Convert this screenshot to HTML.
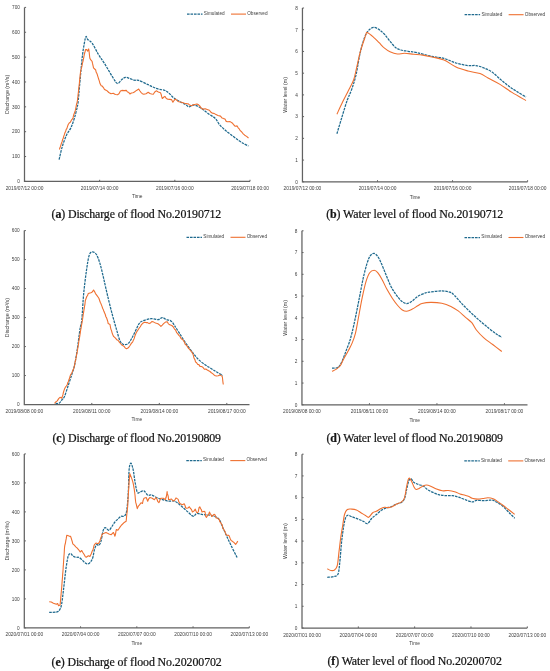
<!DOCTYPE html>
<html><head><meta charset="utf-8"><title>Figure</title>
<style>
html,body{margin:0;padding:0;background:#fff;}
svg{display:block;}
.ax{fill:none;stroke:#626262;stroke-width:1.25;}
.tk{fill:none;stroke:#626262;stroke-width:1;}
.sim{fill:none;stroke:#1f6a8e;stroke-width:1.25;stroke-dasharray:2.6 0.9;}
.obs{fill:none;stroke:#ef7030;stroke-width:1.1;stroke-linejoin:round;}
text{font-family:"Liberation Sans",Arial,sans-serif;fill:#404040;}
.yl{font-size:4.699999999999999px;text-anchor:end;}
.yt{font-size:5.3px;text-anchor:middle;}
.xl{font-size:4.85px;text-anchor:middle;}
.lg{font-size:4.7px;}
.cap{font-family:"Liberation Serif","Times New Roman",serif;font-size:11.9px;fill:#151515;stroke:#151515;stroke-width:0.22px;}
</style></head><body>
<svg width="550" height="671" viewBox="0 0 550 671">
<path d="M24.5 7.4 V181.4 H250" class="ax"/>
<path d="M24.5 181.4 h1.6" class="tk"/>
<text x="19.9" y="183.2" class="yl">0</text>
<path d="M24.5 156.54 h1.6" class="tk"/>
<text x="19.9" y="158.34" class="yl">100</text>
<path d="M24.5 131.69 h1.6" class="tk"/>
<text x="19.9" y="133.49" class="yl">200</text>
<path d="M24.5 106.83 h1.6" class="tk"/>
<text x="19.9" y="108.63" class="yl">300</text>
<path d="M24.5 81.97 h1.6" class="tk"/>
<text x="19.9" y="83.77" class="yl">400</text>
<path d="M24.5 57.11 h1.6" class="tk"/>
<text x="19.9" y="58.91" class="yl">500</text>
<path d="M24.5 32.26 h1.6" class="tk"/>
<text x="19.9" y="34.06" class="yl">600</text>
<path d="M24.5 7.4 h1.6" class="tk"/>
<text x="19.9" y="9.2" class="yl">700</text>
<text x="24.5" y="189.9" class="xl">2019/07/12 00:00</text>
<path d="M99.67 181.4 v-1.6" class="tk"/>
<text x="99.67" y="189.9" class="xl">2019/07/14 00:00</text>
<path d="M174.83 181.4 v-1.6" class="tk"/>
<text x="174.83" y="189.9" class="xl">2019/07/16 00:00</text>
<path d="M250 181.4 v-1.6" class="tk"/>
<text x="250" y="189.9" class="xl">2019/07/18 00:00</text>
<text x="137.25" y="198.2" class="xl">Time</text>
<text transform="translate(9.1 94.4) rotate(-90)" class="yt">Discharge (m³/s)</text>
<path d="M187 14.1 h15.5" class="sim"/>
<text x="203.8" y="14.9" class="lg">Simulated</text>
<path d="M231 14.1 h15" class="obs"/>
<text x="247.2" y="14.9" class="lg">Observed</text>
<path d="M59.1 159.6 C59.63 157.42 61.05 150.62 62.3 146.5 C63.55 142.38 65.15 138.05 66.6 134.9 C68.05 131.75 69.67 130.5 71 127.6 C72.33 124.7 73.52 121.13 74.6 117.5 C75.68 113.87 76.88 108.72 77.5 105.8 C78.12 102.88 77.57 107.55 78.3 100 C79.03 92.45 80.93 69.75 81.9 60.5 C82.87 51.25 83.42 48.5 84.1 44.5 C84.78 40.5 85.4 37.33 86 36.5 C86.6 35.67 86.68 38.4 87.7 39.5 C88.72 40.6 90.28 40.57 92.1 43.1 C93.92 45.63 96.53 51.3 98.6 54.7 C100.67 58.1 102.07 59.62 104.5 63.5 C106.93 67.38 111.03 74.67 113.2 78 C115.37 81.33 116.05 83.25 117.5 83.5 C118.95 83.75 120.57 80.53 121.9 79.5 C123.23 78.47 124.15 77.45 125.5 77.3 C126.85 77.15 128.53 78.12 130 78.6 C131.47 79.08 132.85 79.9 134.3 80.2 C135.75 80.5 136.5 79.7 138.7 80.4 C140.9 81.1 144.58 83.07 147.5 84.4 C150.42 85.73 153.3 87.38 156.2 88.4 C159.1 89.42 162.72 89.65 164.9 90.5 C167.08 91.35 167.85 92.28 169.3 93.5 C170.75 94.72 171.9 96.47 173.6 97.8 C175.3 99.13 177.55 100.4 179.5 101.5 C181.45 102.6 183.73 103.52 185.3 104.4 C186.87 105.28 187.7 106.68 188.9 106.8 C190.1 106.92 191.17 105.27 192.5 105.1 C193.83 104.93 195.2 105.1 196.9 105.8 C198.6 106.5 200.67 107.9 202.7 109.3 C204.73 110.7 206.97 112.65 209.1 114.2 C211.23 115.75 213.8 116.9 215.5 118.6 C217.2 120.3 217.82 122.58 219.3 124.4 C220.78 126.22 222.5 127.82 224.4 129.5 C226.3 131.18 228.37 132.7 230.7 134.5 C233.03 136.3 236.27 138.8 238.4 140.3 C240.53 141.8 241.82 142.55 243.5 143.5 C245.18 144.45 247.67 145.58 248.5 146" class="sim"/>
<path d="M59.4 149.5 L59.94 147.79 L60.48 146.47 L61.01 144.63 L61.55 142.95 L62.09 141.67 L62.62 139.37 L63.16 138.56 L63.7 136.4 L64.33 134.75 L64.96 132.62 L65.59 131.65 L66.21 129.42 L66.84 128.56 L67.47 126.57 L68.1 124.7 L69.2 122.92 L70.3 122.31 L71.4 120.15 L72.5 118.9 L73.08 117.66 L73.66 114.88 L74.24 113.46 L74.82 112.08 L75.4 110.2 L75.75 108.25 L76.1 106.62 L76.45 104.66 L76.8 103.52 L77.15 102.08 L77.5 100 L77.68 98.15 L77.85 96.92 L78.03 95.13 L78.21 93.68 L78.38 92.37 L78.56 90.23 L78.74 88.4 L78.91 86.89 L79.09 85.52 L79.26 84.2 L79.44 82.54 L79.62 80.16 L79.79 78.3 L79.97 77.6 L80.15 75.15 L80.32 74.03 L80.5 72.2 L80.86 70.17 L81.22 68.93 L81.59 67.53 L81.95 66.15 L82.31 63.86 L82.68 62.29 L83.04 61.07 L83.4 59.1 L83.75 57.54 L84.1 55.5 L84.45 54.17 L84.8 52.48 L85.15 51.47 L85.5 49.6 L86.7 49.6 L87.7 51.1 L88.7 48.9 L88.94 50.96 L89.18 52.25 L89.42 54.6 L89.66 56.8 L89.9 58.4 L91 60.22 L92.1 61.3 L92.45 63.17 L92.8 64.64 L93.15 66.16 L93.5 67.8 L95.7 70 L96.19 72.26 L96.68 73.01 L97.17 74.21 L97.66 75.82 L98.14 77.47 L98.63 79.05 L99.12 80.37 L99.61 82.07 L100.1 83.8 L101.2 85.83 L102.3 86.14 L103.4 87.56 L104.5 89.6 L105.93 90.13 L107.37 91.01 L108.8 92.5 L111 93.67 L113.2 93.3 L115.35 94.53 L117.5 94.7 L118.97 93.79 L120.43 91.04 L121.9 90.4 L124.1 90.67 L126.3 90.4 L127.5 91.97 L128.7 92.32 L129.9 94 L131.4 92.96 L132.9 92.68 L134.4 92 L135.83 90.87 L137.27 89.92 L138.7 89.1 L139.8 90.74 L140.9 92.3 L142.35 93.71 L143.8 94.2 L146 93.68 L148.2 92.3 L149.9 93.53 L151.6 94.07 L153.3 94.2 L154.75 92 L156.2 90.8 L158.35 91.95 L160.5 92.7 L161.1 94.22 L161.7 96.64 L162.3 98.5 L163.6 97.24 L164.9 96.4 L166.35 98.52 L167.8 99.3 L169.65 99.39 L171.5 99.6 L172.9 102.2 L174 100.56 L175.1 99 L176.55 99.92 L178 101.5 L180.2 102.02 L182.4 102.5 L184.55 103.2 L186.7 103.6 L188.35 103.84 L190 105.3 L191.9 105.68 L193.8 104.6 L195.4 104.32 L197 104 L198.6 104.82 L200.2 106.5 L201.45 108.33 L202.7 109.1 L205.3 108.8 L207.8 109.7 L209.4 110.28 L211 112.3 L212.5 113.26 L214 113.37 L215.5 114.2 L218 115.5 L220.5 116.1 L222.1 118.05 L223.7 118.6 L224.97 118.98 L226.23 121.37 L227.5 121.8 L230.1 121.6 L232.6 123.3 L233.9 125.01 L235.2 126.3 L237.1 125.9 L238.17 127.84 L239.23 128.97 L240.3 130.7 L241.77 132.01 L243.23 133.81 L244.7 135.2 L246.6 136.37 L248.5 138" class="obs"/>
<path d="M302.45 8 V181.8 H527.6" class="ax"/>
<path d="M302.45 181.8 h1.6" class="tk"/>
<text x="297.85" y="183.6" class="yl">0</text>
<path d="M302.45 160.08 h1.6" class="tk"/>
<text x="297.85" y="161.88" class="yl">1</text>
<path d="M302.45 138.35 h1.6" class="tk"/>
<text x="297.85" y="140.15" class="yl">2</text>
<path d="M302.45 116.62 h1.6" class="tk"/>
<text x="297.85" y="118.42" class="yl">3</text>
<path d="M302.45 94.9 h1.6" class="tk"/>
<text x="297.85" y="96.7" class="yl">4</text>
<path d="M302.45 73.18 h1.6" class="tk"/>
<text x="297.85" y="74.98" class="yl">5</text>
<path d="M302.45 51.45 h1.6" class="tk"/>
<text x="297.85" y="53.25" class="yl">6</text>
<path d="M302.45 29.72 h1.6" class="tk"/>
<text x="297.85" y="31.52" class="yl">7</text>
<path d="M302.45 8 h1.6" class="tk"/>
<text x="297.85" y="9.8" class="yl">8</text>
<text x="302.45" y="190.3" class="xl">2019/07/12 00:00</text>
<path d="M377.5 181.8 v-1.6" class="tk"/>
<text x="377.5" y="190.3" class="xl">2019/07/14 00:00</text>
<path d="M452.55 181.8 v-1.6" class="tk"/>
<text x="452.55" y="190.3" class="xl">2019/07/16 00:00</text>
<path d="M527.6 181.8 v-1.6" class="tk"/>
<text x="527.6" y="190.3" class="xl">2019/07/18 00:00</text>
<text x="415.02" y="198.6" class="xl">Time</text>
<text transform="translate(287.05 94.9) rotate(-90)" class="yt">Water level (m)</text>
<path d="M464.6 14.7 h15.5" class="sim"/>
<text x="481.4" y="15.5" class="lg">Simulated</text>
<path d="M508.6 14.7 h15" class="obs"/>
<text x="524.8" y="15.5" class="lg">Observed</text>
<path d="M336.9 133.8 C337.72 131.08 340.07 123.13 341.8 117.5 C343.53 111.87 345.63 104.73 347.3 100 C348.97 95.27 350.33 93.35 351.8 89.1 C353.27 84.85 354.77 80.27 356.1 74.5 C357.43 68.73 358.43 60.55 359.8 54.5 C361.17 48.45 362.83 42.22 364.3 38.2 C365.77 34.18 367.05 32.2 368.6 30.4 C370.15 28.6 371.85 27.53 373.6 27.4 C375.35 27.27 377.28 28.45 379.1 29.6 C380.92 30.75 382.68 32.35 384.5 34.3 C386.32 36.25 388.17 39.12 390 41.3 C391.83 43.48 393.68 45.95 395.5 47.4 C397.32 48.85 398.78 49.35 400.9 50 C403.02 50.65 405.47 50.85 408.2 51.3 C410.93 51.75 413.33 51.85 417.3 52.7 C421.27 53.55 427.55 55.45 432 56.4 C436.45 57.35 440 57.3 444 58.4 C448 59.5 452 61.8 456 63 C460 64.2 464.67 65.17 468 65.6 C471.33 66.03 473.33 65.2 476 65.6 C478.67 66 481.33 66.93 484 68 C486.67 69.07 489.33 70.17 492 72 C494.67 73.83 497.33 76.73 500 79 C502.67 81.27 505.33 83.6 508 85.6 C510.67 87.6 513 89.1 516 91 C519 92.9 524.33 96 526 97" class="sim"/>
<path d="M336.9 114.2 C337.87 112.13 340.82 105.68 342.7 101.8 C344.58 97.92 346.38 94.53 348.2 90.9 C350.02 87.27 352.18 83.93 353.6 80 C355.02 76.07 355.55 72.15 356.7 67.3 C357.85 62.45 359.27 55.45 360.5 50.9 C361.73 46.35 363.2 42.72 364.1 40 C365 37.28 365.37 35.85 365.9 34.6 C366.43 33.35 366.02 32.05 367.3 32.5 C368.58 32.95 371.63 35.6 373.6 37.3 C375.57 39 377.28 40.88 379.1 42.7 C380.92 44.52 382.68 46.68 384.5 48.2 C386.32 49.72 387.87 50.83 390 51.8 C392.13 52.77 394.88 53.75 397.3 54 C399.72 54.25 401.78 53.27 404.5 53.3 C407.22 53.33 410.57 53.9 413.6 54.2 C416.63 54.5 419.63 54.63 422.7 55.1 C425.77 55.57 428.45 56.18 432 57 C435.55 57.82 440 58.33 444 60 C448 61.67 452 65.17 456 67 C460 68.83 464 69.9 468 71 C472 72.1 476.67 72.43 480 73.6 C483.33 74.77 484.67 76.2 488 78 C491.33 79.8 496 82 500 84.4 C504 86.8 507.67 89.7 512 92.4 C516.33 95.1 523.67 99.23 526 100.6" class="obs"/>
<path d="M24.3 230.6 V404.55 H249.5" class="ax"/>
<path d="M24.3 404.55 h1.6" class="tk"/>
<text x="19.7" y="406.35" class="yl">0</text>
<path d="M24.3 375.56 h1.6" class="tk"/>
<text x="19.7" y="377.36" class="yl">100</text>
<path d="M24.3 346.57 h1.6" class="tk"/>
<text x="19.7" y="348.37" class="yl">200</text>
<path d="M24.3 317.57 h1.6" class="tk"/>
<text x="19.7" y="319.38" class="yl">300</text>
<path d="M24.3 288.58 h1.6" class="tk"/>
<text x="19.7" y="290.38" class="yl">400</text>
<path d="M24.3 259.59 h1.6" class="tk"/>
<text x="19.7" y="261.39" class="yl">500</text>
<path d="M24.3 230.6 h1.6" class="tk"/>
<text x="19.7" y="232.4" class="yl">600</text>
<text x="24.3" y="413.05" class="xl">2019/08/08 00:00</text>
<path d="M91.8 404.55 v-1.6" class="tk"/>
<text x="91.8" y="413.05" class="xl">2019/08/11 00:00</text>
<path d="M159.3 404.55 v-1.6" class="tk"/>
<text x="159.3" y="413.05" class="xl">2019/08/14 00:00</text>
<path d="M226.8 404.55 v-1.6" class="tk"/>
<text x="226.8" y="413.05" class="xl">2019/08/17 00:00</text>
<text x="136.9" y="421.35" class="xl">Time</text>
<text transform="translate(8.9 317.57) rotate(-90)" class="yt">Discharge (m³/s)</text>
<path d="M186.5 237.3 h15.5" class="sim"/>
<text x="203.3" y="238.1" class="lg">Simulated</text>
<path d="M230.5 237.3 h15" class="obs"/>
<text x="246.7" y="238.1" class="lg">Observed</text>
<path d="M55.5 403.3 C56.1 403.3 58.05 403.85 59.1 403.3 C60.15 402.75 60.9 401.15 61.8 400 C62.7 398.85 63.43 398.82 64.5 396.4 C65.57 393.98 66.98 389.15 68.2 385.5 C69.42 381.85 70.75 377.83 71.8 374.5 C72.85 371.17 73.58 369.73 74.5 365.5 C75.42 361.27 76.38 355.17 77.3 349.1 C78.22 343.03 79.25 333.95 80 329.1 C80.75 324.25 81.2 325.77 81.8 320 C82.4 314.23 82.83 302.68 83.6 294.5 C84.37 286.32 85.48 277.38 86.4 270.9 C87.32 264.42 88.13 258.77 89.1 255.6 C90.07 252.43 90.98 252.08 92.2 251.9 C93.42 251.72 95.1 252.55 96.4 254.5 C97.7 256.45 98.8 259.65 100 263.6 C101.2 267.55 102.38 273.05 103.6 278.2 C104.82 283.35 105.93 288.75 107.3 294.5 C108.67 300.25 110.28 306.93 111.8 312.7 C113.32 318.47 115.03 324.4 116.4 329.1 C117.77 333.8 118.8 338.33 120 340.9 C121.2 343.47 122.23 344.05 123.6 344.5 C124.97 344.95 126.83 344.65 128.2 343.6 C129.57 342.55 130.58 340.32 131.8 338.2 C133.02 336.08 134.28 333.33 135.5 330.9 C136.72 328.47 137.9 325.27 139.1 323.6 C140.3 321.93 140.73 321.72 142.7 320.9 C144.67 320.08 148.32 318.92 150.9 318.7 C153.48 318.48 156.32 319.78 158.2 319.6 C160.08 319.42 160.83 317.6 162.2 317.6 C163.57 317.6 164.95 319.05 166.4 319.6 C167.85 320.15 169.55 319.92 170.9 320.9 C172.25 321.88 173.13 323.53 174.5 325.5 C175.87 327.47 177.27 329.83 179.1 332.7 C180.93 335.57 183.23 339.37 185.5 342.7 C187.77 346.03 190.28 349.67 192.7 352.7 C195.12 355.73 197.27 358.47 200 360.9 C202.73 363.33 206.37 365.48 209.1 367.3 C211.83 369.12 214.13 370.43 216.4 371.8 C218.67 373.17 221.65 374.88 222.7 375.5" class="sim"/>
<path d="M54.5 403.3 L55.9 401.83 L57.3 400.9 L58.65 398.61 L60 397.3 L61.8 398.2 L62.34 396.33 L62.88 394.98 L63.42 392.47 L63.96 390.66 L64.5 389.1 L65.43 387.12 L66.37 386 L67.3 384.5 L67.84 382.4 L68.38 381.72 L68.92 379.76 L69.46 378.56 L70 376.4 L70.72 374.57 L71.44 373.55 L72.16 372.17 L72.88 370.3 L73.6 369.1 L73.95 367.56 L74.3 366.37 L74.65 364.85 L75 362.52 L75.35 361.27 L75.7 359.86 L76.05 357.66 L76.4 356.4 L76.67 354.28 L76.94 353.55 L77.21 351.83 L77.48 350 L77.75 348.31 L78.02 346.71 L78.29 345.44 L78.56 343.77 L78.83 341.19 L79.1 340 L79.38 338.12 L79.65 336.87 L79.93 335.01 L80.21 333.5 L80.48 331.18 L80.76 329.49 L81.04 328.38 L81.32 326.13 L81.59 324.78 L81.87 323.43 L82.15 321.58 L82.42 320.29 L82.7 318.2 L82.95 316.77 L83.21 314.51 L83.46 313.2 L83.72 311.71 L83.97 309.88 L84.23 308.59 L84.48 306.69 L84.74 305.34 L84.99 303.81 L85.25 300.99 L85.5 300 L86.17 298.19 L86.85 296.29 L87.53 295.67 L88.2 293.6 L90.9 292.7 L92.25 291.92 L93.6 290 L94.55 291.6 L95.5 293.6 L96.85 295.34 L98.2 297.3 L98.88 298.27 L99.55 300.29 L100.23 302.3 L100.9 303.6 L101.5 305.14 L102.1 306.67 L102.7 308.45 L103.3 309.59 L103.9 311.33 L104.5 312.7 L105.2 314.23 L105.9 316.76 L106.6 317.83 L107.3 320 L107.75 321.38 L108.2 323.6 L110 324.5 L110.45 327.07 L110.9 329.1 L111.5 330.67 L112.1 332.87 L112.7 334.5 L113.6 336.4 L115.5 338.2 L116.7 339.7 L117.9 340.15 L119.1 341.8 L120.3 343.27 L121.5 344.78 L122.7 345.5 L123.93 346.16 L125.17 347.87 L126.4 348.7 L127.6 348.22 L128.8 347.23 L130 345.5 L131.35 343.39 L132.7 341.8 L133.4 340.12 L134.1 338.64 L134.8 336.29 L135.5 334.5 L136.4 332.36 L137.3 330.94 L138.2 329.62 L139.1 328.2 L140.3 326.73 L141.5 324.6 L142.7 323.3 L144.5 322.2 L146.03 322.59 L147.57 322.59 L149.1 323.6 L150.45 323.01 L151.8 321.5 L153.33 321.87 L154.87 322.63 L156.4 323.3 L157.9 323.71 L159.4 324.94 L160.9 326.4 L162.25 325.04 L163.6 323.6 L165.45 322.06 L167.3 321.8 L168.2 323.5 L169.1 324.5 L171.8 325.5 L173.15 326.74 L174.5 329.1 L175.6 329.95 L176.7 332.72 L177.8 333.81 L178.9 335.36 L180 336.4 L181.04 338.44 L182.09 339.2 L183.13 340.21 L184.17 341.57 L185.21 344.22 L186.26 345.13 L187.3 346.4 L188.38 348.27 L189.46 349.2 L190.54 350.69 L191.62 351.81 L192.7 353.6 L193.26 355 L193.82 357.48 L194.38 358.88 L194.94 359.68 L195.5 361.8 L196.62 362.76 L197.75 364.53 L198.88 364.59 L200 366.4 L201.46 366.53 L202.92 367.31 L204.38 369.24 L205.84 369 L207.3 370 L208.65 370.84 L210 371.54 L211.35 372.71 L212.7 373.6 L214.55 375.42 L216.4 376 L218.2 375.76 L220 374.9 L222.2 376.4 L222.42 377.49 L222.64 379.46 L222.86 381.53 L223.08 383.08 L223.3 384.5" class="obs"/>
<path d="M301.95 230.8 V404.8 H527.5" class="ax"/>
<path d="M301.95 404.8 h1.6" class="tk"/>
<text x="297.35" y="406.6" class="yl">0</text>
<path d="M301.95 383.05 h1.6" class="tk"/>
<text x="297.35" y="384.85" class="yl">1</text>
<path d="M301.95 361.3 h1.6" class="tk"/>
<text x="297.35" y="363.1" class="yl">2</text>
<path d="M301.95 339.55 h1.6" class="tk"/>
<text x="297.35" y="341.35" class="yl">3</text>
<path d="M301.95 317.8 h1.6" class="tk"/>
<text x="297.35" y="319.6" class="yl">4</text>
<path d="M301.95 296.05 h1.6" class="tk"/>
<text x="297.35" y="297.85" class="yl">5</text>
<path d="M301.95 274.3 h1.6" class="tk"/>
<text x="297.35" y="276.1" class="yl">6</text>
<path d="M301.95 252.55 h1.6" class="tk"/>
<text x="297.35" y="254.35" class="yl">7</text>
<path d="M301.95 230.8 h1.6" class="tk"/>
<text x="297.35" y="232.6" class="yl">8</text>
<text x="301.95" y="413.3" class="xl">2019/08/08 00:00</text>
<path d="M369.45 404.8 v-1.6" class="tk"/>
<text x="369.45" y="413.3" class="xl">2019/08/11 00:00</text>
<path d="M436.95 404.8 v-1.6" class="tk"/>
<text x="436.95" y="413.3" class="xl">2019/08/14 00:00</text>
<path d="M504.45 404.8 v-1.6" class="tk"/>
<text x="504.45" y="413.3" class="xl">2019/08/17 00:00</text>
<text x="414.73" y="421.6" class="xl">Time</text>
<text transform="translate(286.55 317.8) rotate(-90)" class="yt">Water level (m)</text>
<path d="M464.5 237.5 h15.5" class="sim"/>
<text x="481.3" y="238.3" class="lg">Simulated</text>
<path d="M508.5 237.5 h15" class="obs"/>
<text x="524.7" y="238.3" class="lg">Observed</text>
<path d="M332 368 C332.73 368 335.13 368.37 336.4 368 C337.67 367.63 338.52 367.25 339.6 365.8 C340.68 364.35 341.8 361.85 342.9 359.3 C344 356.75 345.1 353.42 346.2 350.5 C347.3 347.58 348.5 344.88 349.5 341.8 C350.5 338.72 351.3 335.63 352.2 332 C353.1 328.37 353.72 325.63 354.9 320 C356.08 314.37 357.92 305.17 359.3 298.2 C360.68 291.23 361.92 283.97 363.2 278.2 C364.48 272.43 365.83 267.33 367 263.6 C368.17 259.87 369.03 257.5 370.2 255.8 C371.37 254.1 372.75 253.3 374 253.4 C375.25 253.5 376.47 254.7 377.7 256.4 C378.93 258.1 380.03 260.58 381.4 263.6 C382.77 266.62 384.38 270.85 385.9 274.5 C387.42 278.15 388.83 282.17 390.5 285.5 C392.17 288.83 394.08 291.93 395.9 294.5 C397.72 297.07 399.58 299.38 401.4 300.9 C403.22 302.42 404.98 303.6 406.8 303.6 C408.62 303.6 410.48 302.1 412.3 300.9 C414.12 299.7 415.58 297.7 417.7 296.4 C419.82 295.1 423.1 293.8 425 293.1 C426.9 292.4 426.3 292.57 429.1 292.2 C431.9 291.83 438.32 290.9 441.8 290.9 C445.28 290.9 447.88 291.43 450 292.2 C452.12 292.97 452.53 293.6 454.5 295.5 C456.47 297.4 459.07 300.73 461.8 303.6 C464.53 306.47 467.87 309.82 470.9 312.7 C473.93 315.58 476.97 318.27 480 320.9 C483.03 323.53 486.37 326.32 489.1 328.5 C491.83 330.68 494.28 332.53 496.4 334 C498.52 335.47 500.9 336.75 501.8 337.3" class="sim"/>
<path d="M332 371.3 C332.73 370.93 335.03 370.02 336.4 369.1 C337.77 368.18 339.02 367.43 340.2 365.8 C341.38 364.17 342.13 361.85 343.5 359.3 C344.87 356.75 346.95 353.23 348.4 350.5 C349.85 347.77 351.02 345.8 352.2 342.9 C353.38 340 354.5 337.08 355.5 333.1 C356.5 329.12 357.1 324.82 358.2 319 C359.3 313.18 360.82 304.4 362.1 298.2 C363.38 292 364.63 286.05 365.9 281.8 C367.17 277.55 368.32 274.62 369.7 272.7 C371.08 270.78 372.87 270.3 374.2 270.3 C375.53 270.3 376.35 271.08 377.7 272.7 C379.05 274.32 380.78 277.27 382.3 280 C383.82 282.73 385.13 286.07 386.8 289.1 C388.47 292.13 390.48 295.47 392.3 298.2 C394.12 300.93 396.03 303.53 397.7 305.5 C399.37 307.47 400.78 309.03 402.3 310 C403.82 310.97 405.13 311.45 406.8 311.3 C408.47 311.15 410.48 310.02 412.3 309.1 C414.12 308.18 416.08 306.73 417.7 305.8 C419.32 304.87 419.8 304.07 422 303.5 C424.2 302.93 427.6 302.43 430.9 302.4 C434.2 302.37 438.47 302.63 441.8 303.3 C445.13 303.97 448.17 305.13 450.9 306.4 C453.63 307.67 455.77 309.08 458.2 310.9 C460.63 312.72 463.23 315.33 465.5 317.3 C467.77 319.27 469.98 320.58 471.8 322.7 C473.62 324.82 474.43 327.52 476.4 330 C478.37 332.48 480.88 335.18 483.6 337.6 C486.32 340.02 489.67 342.18 492.7 344.5 C495.73 346.82 500.28 350.33 501.8 351.5" class="obs"/>
<path d="M24.3 453.9 V627.9 H249.3" class="ax"/>
<path d="M24.3 627.9 h1.6" class="tk"/>
<text x="19.7" y="629.7" class="yl">0</text>
<path d="M24.3 598.9 h1.6" class="tk"/>
<text x="19.7" y="600.7" class="yl">100</text>
<path d="M24.3 569.9 h1.6" class="tk"/>
<text x="19.7" y="571.7" class="yl">200</text>
<path d="M24.3 540.9 h1.6" class="tk"/>
<text x="19.7" y="542.7" class="yl">300</text>
<path d="M24.3 511.9 h1.6" class="tk"/>
<text x="19.7" y="513.7" class="yl">400</text>
<path d="M24.3 482.9 h1.6" class="tk"/>
<text x="19.7" y="484.7" class="yl">500</text>
<path d="M24.3 453.9 h1.6" class="tk"/>
<text x="19.7" y="455.7" class="yl">600</text>
<text x="24.3" y="636.4" class="xl">2020/07/01 00:00</text>
<path d="M80.55 627.9 v-1.6" class="tk"/>
<text x="80.55" y="636.4" class="xl">2020/07/04 00:00</text>
<path d="M136.8 627.9 v-1.6" class="tk"/>
<text x="136.8" y="636.4" class="xl">2020/07/07 00:00</text>
<path d="M193.05 627.9 v-1.6" class="tk"/>
<text x="193.05" y="636.4" class="xl">2020/07/10 00:00</text>
<path d="M249.3 627.9 v-1.6" class="tk"/>
<text x="249.3" y="636.4" class="xl">2020/07/13 00:00</text>
<text x="136.8" y="644.7" class="xl">Time</text>
<text transform="translate(8.9 540.9) rotate(-90)" class="yt">Discharge (m³/s)</text>
<path d="M186.3 460.6 h15.5" class="sim"/>
<text x="203.1" y="461.4" class="lg">Simulated</text>
<path d="M230.3 460.6 h15" class="obs"/>
<text x="246.5" y="461.4" class="lg">Observed</text>
<path d="M49.2 612.4 C50.4 612.35 54.7 612.47 56.4 612.1 C58.1 611.73 58.53 611.52 59.4 610.2 C60.27 608.88 60.87 608.05 61.6 604.2 C62.33 600.35 63.05 593.18 63.8 587.1 C64.55 581.02 65.35 572.92 66.1 567.7 C66.85 562.48 67.55 558.17 68.3 555.8 C69.05 553.43 69.85 553.5 70.6 553.5 C71.35 553.5 71.93 555.17 72.8 555.8 C73.67 556.43 74.82 557.05 75.8 557.3 C76.78 557.55 77.72 556.93 78.7 557.3 C79.68 557.67 80.7 558.63 81.7 559.5 C82.7 560.37 83.7 561.75 84.7 562.5 C85.7 563.25 86.7 564.13 87.7 564 C88.7 563.87 89.83 562.82 90.7 561.7 C91.57 560.58 92.28 559.28 92.9 557.3 C93.52 555.32 93.78 551.92 94.4 549.8 C95.02 547.68 95.85 545.35 96.6 544.6 C97.35 543.85 98.15 545.92 98.9 545.3 C99.65 544.68 100.42 543.28 101.1 540.9 C101.78 538.52 102.32 533.2 103 531 C103.68 528.8 104.22 527.82 105.2 527.7 C106.18 527.58 107.78 530.5 108.9 530.3 C110.02 530.1 110.9 527.88 111.9 526.5 C112.9 525.12 113.9 523.23 114.9 522 C115.9 520.77 116.9 520.03 117.9 519.1 C118.9 518.17 119.78 516.95 120.9 516.4 C122.02 515.85 123.62 516.85 124.6 515.8 C125.58 514.75 126.18 514.02 126.8 510.1 C127.42 506.18 127.92 499 128.3 492.3 C128.68 485.6 128.72 474.75 129.1 469.9 C129.48 465.05 130.12 463.95 130.6 463.2 C131.08 462.45 131.52 464.03 132 465.4 C132.48 466.77 133 468.67 133.5 471.4 C134 474.13 134.37 478.32 135 481.8 C135.63 485.28 136.43 490.6 137.3 492.3 C138.17 494 139.08 492.25 140.2 492 C141.32 491.75 142.75 490.27 144 490.8 C145.25 491.33 146.47 494.52 147.7 495.2 C148.93 495.88 149.92 494.52 151.4 494.9 C152.88 495.28 154.73 496.7 156.6 497.5 C158.47 498.3 160.6 499.08 162.6 499.7 C164.6 500.32 166.62 500.95 168.6 501.2 C170.58 501.45 172.53 500.52 174.5 501.2 C176.47 501.88 178.42 503.73 180.4 505.3 C182.38 506.87 184.28 508.78 186.4 510.6 C188.52 512.42 191.37 515.72 193.1 516.2 C194.83 516.68 195.18 513.77 196.8 513.5 C198.42 513.23 200.82 514.35 202.8 514.6 C204.78 514.85 206.72 514.68 208.7 515 C210.68 515.32 212.95 515.75 214.7 516.5 C216.45 517.25 217.83 517.63 219.2 519.5 C220.57 521.37 221.67 524.97 222.9 527.7 C224.13 530.43 225.23 532.92 226.6 535.9 C227.97 538.88 229.35 542 231.1 545.6 C232.85 549.2 236.1 555.52 237.1 557.5" class="sim"/>
<path d="M49.2 601.7 L51.3 602.06 L53.4 603.2 L56.4 604.2 L57.6 603.5 L58.6 605.7 L60.1 604.9 L60.25 603.36 L60.4 601.67 L60.55 600.39 L60.7 598.63 L60.85 596.28 L61 595.58 L61.15 593.18 L61.3 591.68 L61.45 589.99 L61.6 588.6 L61.73 587.16 L61.85 585.3 L61.98 583.52 L62.1 581.64 L62.23 580.67 L62.35 578.68 L62.48 577.51 L62.6 575.23 L62.73 573.62 L62.85 572.44 L62.98 570.75 L63.1 569.2 L63.21 567.37 L63.31 565.66 L63.42 564.38 L63.53 562.52 L63.64 560.81 L63.74 559.16 L63.85 558.07 L63.96 555.95 L64.06 555.29 L64.17 553.56 L64.28 551.79 L64.39 549.56 L64.49 548.24 L64.6 546.8 L64.91 544.89 L65.23 544.03 L65.54 542.36 L65.86 540.44 L66.17 538.89 L66.49 536.86 L66.8 535.2 L69.1 536.1 L70.6 536.4 L71.15 537.99 L71.7 539.83 L72.25 541.52 L72.8 543.8 L74.3 545.19 L75.8 546.8 L77.25 548.08 L78.7 549.8 L80.2 552 L81.7 550.5 L82.85 552.49 L84 554.3 L85.1 556.31 L86.2 557.3 L88.4 555.8 L89.9 556.5 L90.65 554.91 L91.4 553.5 L92.15 551.21 L92.9 549.8 L93.4 548.32 L93.9 545.95 L94.4 544.6 L95.9 543.1 L98.1 543.8 L99.05 542.68 L100 540.7 L100.55 538.69 L101.1 537.33 L101.65 536.19 L102.2 534 L104.1 533.31 L106 532.5 L107.45 533.13 L108.9 534 L111.2 534.7 L113.4 532.5 L114.15 534.05 L114.9 536.2 L115.28 535.06 L115.65 533.31 L116.03 530.84 L116.4 529.5 L117.9 530.3 L119.4 528 L120.5 526.35 L121.6 525 L123.8 522.8 L126.1 521.3 L126.29 519.98 L126.47 517.92 L126.66 515.87 L126.85 513.84 L127.04 512.74 L127.22 511.09 L127.41 508.75 L127.6 507.2 L127.7 506.02 L127.8 503.95 L127.9 501.91 L128 500.32 L128.1 498.54 L128.2 496.74 L128.3 495.22 L128.4 494.11 L128.5 491.53 L128.6 490.53 L128.7 488.82 L128.8 487.29 L128.9 485.1 L129 483.84 L129.1 481.8 L129.24 480.18 L129.38 478.85 L129.52 477.06 L129.66 475.38 L129.8 473.6 L130.55 475.52 L131.3 477.4 L132.05 479.42 L132.8 481.8 L133.18 483.3 L133.55 485.05 L133.93 487.61 L134.3 489.3 L134.49 491.43 L134.68 492.42 L134.86 494.06 L135.05 495.52 L135.24 498.07 L135.43 499.81 L135.61 501.41 L135.8 502.7 L136.3 504.47 L136.8 506.55 L137.3 508.6 L138.4 506.03 L139.5 504.9 L141 502.7 L142.5 503.4 L143 500.82 L143.5 499.56 L144 498.2 L146.2 497.5 L146.95 499.2 L147.7 501.2 L148.85 498.58 L150 497.5 L152.2 498.2 L154.4 499.7 L155.9 497.5 L156.9 499.06 L157.9 501.69 L158.9 502.7 L159.63 501.01 L160.37 498.73 L161.1 498.2 L163.3 498.2 L165.6 499.7 L165.9 497.17 L166.2 497.36 L166.5 495.67 L166.8 494.08 L167.1 491.5 L167.4 493.9 L167.7 494.59 L168 495.48 L168.3 496.87 L168.6 499.7 L171.5 499 L173 500.9 L174.5 500.52 L176 497.9 L178.2 499.4 L178.93 502.04 L179.67 503.22 L180.4 503.8 L182.3 504.69 L184.2 503.8 L184.93 505.24 L185.67 507.77 L186.4 508.3 L187.9 507.96 L189.4 506.8 L190.4 508.48 L191.4 509.42 L192.4 512 L193.85 511.12 L195.3 509.1 L196.45 512.16 L197.6 512.8 L198.33 511.48 L199.07 507.68 L199.8 506.8 L200.53 508.56 L201.27 509.51 L202 512 L204.3 511.3 L205.03 512.01 L205.77 516.59 L206.5 517.3 L207.5 515.7 L208.5 514.77 L209.5 512 L210.23 513.87 L210.97 514.75 L211.7 516.5 L214 514.3 L215.1 515.03 L216.2 518 L217.7 518.33 L219.2 519.5 L219.93 521.81 L220.67 522.66 L221.4 524 L222.17 524.77 L222.93 528.53 L223.7 529.2 L224.42 530.44 L225.15 532.02 L225.88 533.92 L226.6 535.1 L228.9 535.4 L229.63 537.09 L230.37 538.94 L231.1 540.4 L232.6 541.54 L234.1 542.6 L235.6 544.4 L236.7 542.87 L237.8 541.1" class="obs"/>
<path d="M302 454.2 V628 H527.3" class="ax"/>
<path d="M302 628 h1.6" class="tk"/>
<text x="297.4" y="629.8" class="yl">0</text>
<path d="M302 606.27 h1.6" class="tk"/>
<text x="297.4" y="608.07" class="yl">1</text>
<path d="M302 584.55 h1.6" class="tk"/>
<text x="297.4" y="586.35" class="yl">2</text>
<path d="M302 562.83 h1.6" class="tk"/>
<text x="297.4" y="564.62" class="yl">3</text>
<path d="M302 541.1 h1.6" class="tk"/>
<text x="297.4" y="542.9" class="yl">4</text>
<path d="M302 519.38 h1.6" class="tk"/>
<text x="297.4" y="521.17" class="yl">5</text>
<path d="M302 497.65 h1.6" class="tk"/>
<text x="297.4" y="499.45" class="yl">6</text>
<path d="M302 475.92 h1.6" class="tk"/>
<text x="297.4" y="477.72" class="yl">7</text>
<path d="M302 454.2 h1.6" class="tk"/>
<text x="297.4" y="456" class="yl">8</text>
<text x="302" y="636.5" class="xl">2020/07/01 00:00</text>
<path d="M358.32 628 v-1.6" class="tk"/>
<text x="358.32" y="636.5" class="xl">2020/07/04 00:00</text>
<path d="M414.65 628 v-1.6" class="tk"/>
<text x="414.65" y="636.5" class="xl">2020/07/07 00:00</text>
<path d="M470.97 628 v-1.6" class="tk"/>
<text x="470.97" y="636.5" class="xl">2020/07/10 00:00</text>
<path d="M527.3 628 v-1.6" class="tk"/>
<text x="527.3" y="636.5" class="xl">2020/07/13 00:00</text>
<text x="414.65" y="644.8" class="xl">Time</text>
<text transform="translate(286.6 541.1) rotate(-90)" class="yt">Water level (m)</text>
<path d="M464.3 460.9 h15.5" class="sim"/>
<text x="481.1" y="461.7" class="lg">Simulated</text>
<path d="M508.3 460.9 h15" class="obs"/>
<text x="524.5" y="461.7" class="lg">Observed</text>
<path d="M327.3 577.3 C328.5 577.15 332.68 577.02 334.5 576.4 C336.32 575.78 337.28 576.33 338.2 573.6 C339.12 570.87 339.4 565.6 340 560 C340.6 554.4 341.05 546.37 341.8 540 C342.55 533.63 343.58 525.88 344.5 521.8 C345.42 517.72 346.08 516.35 347.3 515.5 C348.52 514.65 349.98 516.1 351.8 516.7 C353.62 517.3 356.23 518.3 358.2 519.1 C360.17 519.9 362.03 520.75 363.6 521.5 C365.17 522.25 366.23 524.15 367.6 523.6 C368.97 523.05 370.33 519.72 371.8 518.2 C373.27 516.68 374.73 515.87 376.4 514.5 C378.07 513.13 379.98 511.15 381.8 510 C383.62 508.85 385.93 508.05 387.3 507.6 C388.67 507.15 388.58 507.83 390 507.3 C391.42 506.77 393.87 505.25 395.8 504.4 C397.73 503.55 400.15 503.18 401.6 502.2 C403.05 501.22 403.65 500.68 404.5 498.5 C405.35 496.32 405.97 492.12 406.7 489.1 C407.43 486.08 408.17 482.1 408.9 480.4 C409.63 478.7 410.25 478.55 411.1 478.9 C411.95 479.25 412.67 481.53 414 482.5 C415.33 483.47 417.52 484.08 419.1 484.7 C420.68 485.32 422.05 485.35 423.5 486.2 C424.95 487.05 426.12 488.72 427.8 489.8 C429.48 490.88 431.65 491.85 433.6 492.7 C435.55 493.55 437.55 494.42 439.5 494.9 C441.45 495.38 443.13 495.48 445.3 495.6 C447.47 495.72 450.32 495.35 452.5 495.6 C454.68 495.85 456.45 496.48 458.4 497.1 C460.35 497.72 461.92 498.5 464.2 499.3 C466.48 500.1 470.05 501.72 472.1 501.9 C474.15 502.08 474.7 500.62 476.5 500.4 C478.3 500.18 480.98 500.6 482.9 500.6 C484.82 500.6 486.4 500.48 488 500.4 C489.6 500.32 491.02 499.78 492.5 500.1 C493.98 500.42 495.32 501.4 496.9 502.3 C498.48 503.2 500.3 504.13 502 505.5 C503.7 506.87 505.62 509.02 507.1 510.5 C508.58 511.98 509.63 513.12 510.9 514.4 C512.17 515.68 514.07 517.57 514.7 518.2" class="sim"/>
<path d="M327.3 568.7 C327.9 569 329.7 570.28 330.9 570.5 C332.1 570.72 333.43 570.83 334.5 570 C335.57 569.17 336.53 568.68 337.3 565.5 C338.07 562.32 338.5 555.75 339.1 550.9 C339.7 546.05 340.3 540.63 340.9 536.4 C341.5 532.17 342.1 529.15 342.7 525.5 C343.3 521.85 343.73 517.17 344.5 514.5 C345.27 511.83 346.08 510.4 347.3 509.5 C348.52 508.6 350.28 509.02 351.8 509.1 C353.32 509.18 354.88 509.4 356.4 510 C357.92 510.6 359.38 511.78 360.9 512.7 C362.42 513.62 364.2 514.73 365.5 515.5 C366.8 516.27 367.5 517.77 368.7 517.3 C369.9 516.83 371.42 513.7 372.7 512.7 C373.98 511.7 375.18 511.9 376.4 511.3 C377.62 510.7 378.65 509.77 380 509.1 C381.35 508.43 383.13 507.55 384.5 507.3 C385.87 507.05 386.83 507.75 388.2 507.6 C389.57 507.45 391.43 506.93 392.7 506.4 C393.97 505.87 394.32 505.15 395.8 504.4 C397.28 503.65 400.15 503 401.6 501.9 C403.05 500.8 403.65 500.42 404.5 497.8 C405.35 495.18 406.08 489.23 406.7 486.2 C407.32 483.17 407.72 480.93 408.2 479.6 C408.68 478.27 409 477.83 409.6 478.2 C410.2 478.57 411.07 480.35 411.8 481.8 C412.53 483.25 413.27 485.62 414 486.9 C414.73 488.18 415.35 489.25 416.2 489.5 C417.05 489.75 418.02 488.95 419.1 488.4 C420.18 487.85 421.48 486.77 422.7 486.2 C423.92 485.63 425.07 485 426.4 485 C427.73 485 429.02 485.52 430.7 486.2 C432.38 486.88 434.55 488.33 436.5 489.1 C438.45 489.87 440.45 490.57 442.4 490.8 C444.35 491.03 446.02 490.3 448.2 490.5 C450.38 490.7 453.53 491.42 455.5 492 C457.47 492.58 458.4 493.45 460 494 C461.6 494.55 463.62 494.88 465.1 495.3 C466.58 495.72 467.73 496.02 468.9 496.5 C470.07 496.98 470.62 497.77 472.1 498.2 C473.58 498.63 476 499.05 477.8 499.1 C479.6 499.15 481.2 498.72 482.9 498.5 C484.6 498.28 486.3 497.75 488 497.8 C489.7 497.85 491.4 498.12 493.1 498.8 C494.8 499.48 496.5 500.78 498.2 501.9 C499.9 503.02 501.6 504.23 503.3 505.5 C505 506.77 506.5 508.02 508.4 509.5 C510.3 510.98 513.65 513.58 514.7 514.4" class="obs"/>
<text x="51.6" y="218.2" class="cap" textLength="169.7" lengthAdjust="spacing">(<tspan font-weight="bold">a</tspan>) Discharge of flood No.20190712</text>
<text x="326.2" y="218.2" class="cap" textLength="177.1" lengthAdjust="spacing">(<tspan font-weight="bold">b</tspan>) Water level of flood No.20190712</text>
<text x="52.4" y="442" class="cap" textLength="168.6" lengthAdjust="spacing">(<tspan font-weight="bold">c</tspan>) Discharge of flood No.20190809</text>
<text x="326.4" y="442" class="cap" textLength="176.6" lengthAdjust="spacing">(<tspan font-weight="bold">d</tspan>) Water level of flood No.20190809</text>
<text x="51.6" y="665.5" class="cap" textLength="170.2" lengthAdjust="spacing">(<tspan font-weight="bold">e</tspan>) Discharge of flood No.20200702</text>
<text x="327.4" y="665.3" class="cap" textLength="174.5" lengthAdjust="spacing">(<tspan font-weight="bold">f</tspan>) Water level of flood No.20200702</text>
</svg>
</body></html>
